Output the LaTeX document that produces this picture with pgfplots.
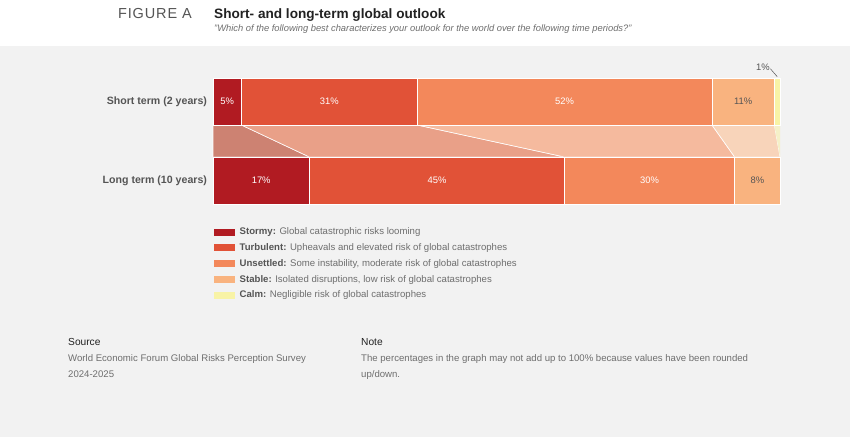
\documentclass[border=0pt]{standalone}
\usepackage{pgfplots}
\pgfplotsset{compat=1.18}
\usepackage{fontspec}
\setmainfont{Liberation Sans}

\definecolor{stormy}{HTML}{B11B22}
\definecolor{turbulent}{HTML}{E15237}
\definecolor{unsettled}{HTML}{F3885B}
\definecolor{stable}{HTML}{F9B37F}
\definecolor{calm}{HTML}{F8F3A6}
\definecolor{cstormy}{HTML}{CD8272}
\definecolor{cturbulent}{HTML}{E9A088}
\definecolor{cunsettled}{HTML}{F5BA9E}
\definecolor{cstable}{HTML}{F8D4BA}
\definecolor{ccalm}{HTML}{F5F0C8}
\definecolor{bggrey}{HTML}{F2F2F2}
\definecolor{txtdark}{HTML}{222222}
\definecolor{txtmid}{HTML}{555555}
\definecolor{txtlight}{HTML}{6E6E6E}

\tikzset{vlab/.style={font=\fontsize{9.4}{11}\selectfont, inner sep=0pt}}
\pgfplotsset{chartbox/.style={
    at={(213pt,233pt)}, anchor=south west,
    scale only axis, width=567pt, height=126pt,
    xmin=0, xmax=100, ymin=-0.2975, ymax=1.2975, clip=false}}

\begin{document}
\begin{tikzpicture}[x=1pt,y=1pt]
\useasboundingbox (0,0) rectangle (850,437);
\fill[white] (0,0) rectangle (850,437);
\fill[bggrey] (0,0) rectangle (850,391);

% header
\node[anchor=base east, inner sep=0, text=txtmid,
      font=\fontsize{14.5}{16}\selectfont\addfontfeatures{LetterSpace=6}] at (192,418) {FIGURE A};
\node[anchor=base west, inner sep=0, text=txtdark,
      font=\bfseries\fontsize{13.6}{16}\selectfont] at (214,418) {Short- and long-term global outlook};
\node[anchor=base west, inner sep=0, text=txtlight,
      font=\itshape\fontsize{9.35}{10}\selectfont] at (214,405)
      {"Which of the following best characterizes your outlook for the world over the following time periods?"};

% footer
\node[anchor=base west, inner sep=0, text=txtdark, font=\fontsize{10.2}{12}\selectfont] at (68,92) {Source};
\node[anchor=base west, inner sep=0, text=txtlight, font=\fontsize{9.6}{12}\selectfont] at (68,76)
      {World Economic Forum Global Risks Perception Survey};
\node[anchor=base west, inner sep=0, text=txtlight, font=\fontsize{9.6}{12}\selectfont] at (68,60) {2024-2025};
\node[anchor=base west, inner sep=0, text=txtdark, font=\fontsize{10.2}{12}\selectfont] at (361,92) {Note};
\node[anchor=base west, inner sep=0, text=txtlight, font=\fontsize{9.6}{12}\selectfont] at (361,76)
      {The percentages in the graph may not add up to 100\% because values have been rounded};
\node[anchor=base west, inner sep=0, text=txtlight, font=\fontsize{9.6}{12}\selectfont] at (361,60) {up/down.};

% connector bands between the two bars
\begin{axis}[chartbox, hide axis]
    \addplot[fill=cstormy, draw=white, line width=0.6pt] coordinates
        {(0,0.7025) (5,0.7025) (17,0.2975) (0,0.2975)} -- cycle;
    \addplot[fill=cturbulent, draw=white, line width=0.6pt] coordinates
        {(5,0.7025) (36,0.7025) (62,0.2975) (17,0.2975)} -- cycle;
    \addplot[fill=cunsettled, draw=white, line width=0.6pt] coordinates
        {(36,0.7025) (88,0.7025) (92,0.2975) (62,0.2975)} -- cycle;
    \addplot[fill=cstable, draw=white, line width=0.6pt] coordinates
        {(88,0.7025) (99,0.7025) (100,0.2975) (92,0.2975)} -- cycle;
    \addplot[fill=ccalm, draw=none] coordinates
        {(99,0.7025) (100,0.7025) (100,0.2975)} -- cycle;
    % leader line for the 1% label
    \addplot[draw=txtmid, line width=0.5pt] coordinates {(98.3,1.415) (99.5,1.315)};
\end{axis}

% stacked bars
\begin{axis}[chartbox,
    xbar stacked, bar width=0.595,
    xtick=\empty, ytick={0,1},
    yticklabels={Long term (10 years), Short term (2 years)},
    yticklabel style={font=\bfseries\fontsize{10.6}{12}\selectfont, text=txtmid, xshift=-2.5pt},
    axis line style={draw=none}, major tick length=0pt,
    legend image code/.code={\fill[#1, draw=none] (1pt,-3.5pt) rectangle (22pt,3.5pt);
        \path[draw=none, fill=none] (0pt,0pt) -- (26pt,0pt);},
    legend style={at={(axis description cs:0,-0.1825)}, anchor=north west,
        draw=none, fill=none, inner sep=0pt, row sep=5.8pt,
        font=\fontsize{9.6}{11}\selectfont, text=txtlight,
        nodes={inner sep=0.5pt, text height=7pt, text depth=2pt}},
    legend cell align=left
    ]
    \addplot[fill=stormy, draw=white, line width=0.8pt] coordinates {(5,1) (17,0)};
    \addplot[fill=turbulent, draw=white, line width=0.8pt] coordinates {(31,1) (45,0)};
    \addplot[fill=unsettled, draw=white, line width=0.8pt] coordinates {(52,1) (30,0)};
    \addplot[fill=stable, draw=white, line width=0.8pt] coordinates {(11,1) (8,0)};
    \addplot[fill=calm, draw=white, line width=0.8pt] coordinates {(1,1) (0,0)};
    \legend{{\textcolor{txtmid}{\bfseries Stormy:} Global catastrophic risks looming},
            {\textcolor{txtmid}{\bfseries Turbulent:} Upheavals and elevated risk of global catastrophes},
            {\textcolor{txtmid}{\bfseries Unsettled:} Some instability, moderate risk of global catastrophes},
            {\textcolor{txtmid}{\bfseries Stable:} Isolated disruptions, low risk of global catastrophes},
            {\textcolor{txtmid}{\bfseries Calm:} Negligible risk of global catastrophes}}
\end{axis}

% value labels on top of the bars
\begin{axis}[chartbox, hide axis]
    \node[vlab, text=white] at (axis cs:2.5,1) {5\%};
    \node[vlab, text=white] at (axis cs:20.5,1) {31\%};
    \node[vlab, text=white] at (axis cs:62,1) {52\%};
    \node[vlab, text=txtmid] at (axis cs:93.5,1) {11\%};
    \node[vlab, text=txtmid] at (axis cs:97,1.437) {1\%};
    \node[vlab, text=white] at (axis cs:8.5,0) {17\%};
    \node[vlab, text=white] at (axis cs:39.5,0) {45\%};
    \node[vlab, text=white] at (axis cs:77,0) {30\%};
    \node[vlab, text=txtmid] at (axis cs:96,0) {8\%};
\end{axis}
\end{tikzpicture}
\end{document}
